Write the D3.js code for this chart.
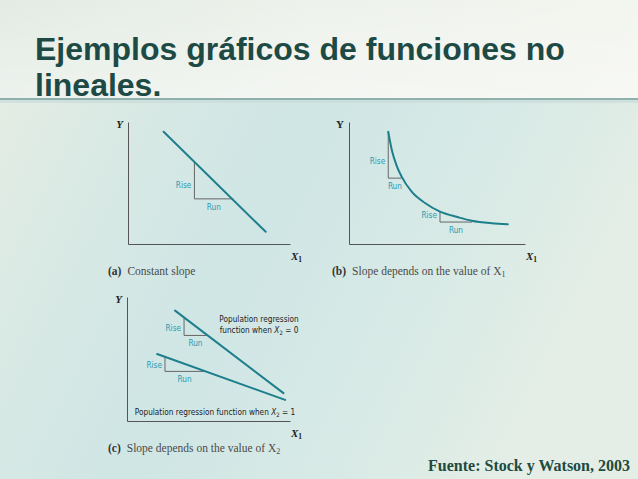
<!DOCTYPE html>
<html><head><meta charset="utf-8">
<script src="https://cdn.jsdelivr.net/npm/d3@7"></script>
<style>
html,body{margin:0;padding:0;background:#fff;}
svg{display:block;}
</style></head>
<body>
<script>
// ---- data (values in each panel's own 0..10 units) ----
const titleLines = ["Ejemplos gráficos de funciones no", "lineales."];
const sourceText = "Fuente: Stock y Watson, 2003";

const lineA = [[2.2, 9.2], [8.5, 1.0]];
const triA = [[4.1, 6.7], [4.1, 3.7], [6.5, 3.7]];

const curveB = [[2.23, 9.2], [2.45, 7.6], [2.7, 6.45], [2.99, 5.52], [3.56, 4.29], [4.32, 3.36],
                [5.17, 2.65], [6.21, 2.19], [6.97, 1.91], [8.11, 1.70], [9.02, 1.61]];
const triB1 = [[2.23, 9.2], [2.23, 5.4], [2.99, 5.4]];
const triB2 = [[5.17, 2.65], [5.17, 1.8], [6.99, 1.8]];

const lineC0 = [[2.95, 8.9], [9.6, 2.25]];
const lineC1 = [[1.85, 5.4], [9.7, 1.7]];
const triC0 = [[3.5, 8.3], [3.5, 6.9], [4.9, 6.9]];
const triC1 = [[2.33, 5.17], [2.33, 4.0], [4.74, 4.0]];

const captions = [
  {tag: "(a)", text: "Constant slope", sub: null},
  {tag: "(b)", text: "Slope depends on the value of X", sub: "1"},
  {tag: "(c)", text: "Slope depends on the value of X", sub: "2"}
];
const regLabel0 = ["Population regression", "function when X", "2", " = 0"];
const regLabel1 = ["Population regression function when X", "2", " = 1"];

// ---- drawing ----
const W = 638, H = 479;
const svg = d3.select("body").append("svg").attr("width", W).attr("height", H);
const defs = svg.append("defs");

const gTop = defs.append("linearGradient").attr("id", "gTop").attr("x1", 0).attr("x2", 1).attr("y1", 0).attr("y2", 0);
gTop.append("stop").attr("offset", 0).attr("stop-color", "#e3ebe4");
gTop.append("stop").attr("offset", 0.5).attr("stop-color", "#eef2ec");
gTop.append("stop").attr("offset", 1).attr("stop-color", "#f3f5ef");
const gTopV = defs.append("linearGradient").attr("id", "gTopV").attr("x1", 0).attr("x2", 0).attr("y1", 0).attr("y2", 1);
gTopV.append("stop").attr("offset", 0).attr("stop-color", "#ffffff").attr("stop-opacity", 0);
gTopV.append("stop").attr("offset", 1).attr("stop-color", "#ffffff").attr("stop-opacity", 0.35);

const gBot = defs.append("linearGradient").attr("id", "gBot").attr("x1", 0).attr("x2", 1).attr("y1", 0).attr("y2", 0.3);
gBot.append("stop").attr("offset", 0).attr("stop-color", "#e4ede4");
gBot.append("stop").attr("offset", 0.18).attr("stop-color", "#d9e9e4");
gBot.append("stop").attr("offset", 0.45).attr("stop-color", "#cfe6e5");
gBot.append("stop").attr("offset", 0.75).attr("stop-color", "#d8eae6");
gBot.append("stop").attr("offset", 1).attr("stop-color", "#e4eee6");

svg.append("rect").attr("width", W).attr("height", 99).attr("fill", "url(#gTop)");
svg.append("rect").attr("width", W).attr("height", 99).attr("fill", "url(#gTopV)");
svg.append("rect").attr("y", 99).attr("width", W).attr("height", H - 99).attr("fill", "url(#gBot)");
svg.append("rect").attr("y", 100).attr("width", W).attr("height", 3).attr("fill", "#c9dcd8").attr("opacity", 0.7);
svg.append("rect").attr("y", 98).attr("width", W).attr("height", 2).attr("fill", "#8fb1ad");

// title
svg.append("text").attr("x", 35).attr("y", 60)
  .attr("font-family", "Liberation Sans, Arial, sans-serif").attr("font-weight", "bold")
  .attr("font-size", 32).attr("fill", "#1e4a45")
  .selectAll("tspan").data(titleLines).join("tspan")
  .attr("x", 35).attr("dy", (d, i) => i ? 36 : 0).text(d => d);

// source
svg.append("text").attr("x", 630).attr("y", 471).attr("text-anchor", "end")
  .attr("font-family", "Liberation Serif, 'Times New Roman', serif").attr("font-weight", "bold")
  .attr("font-size", 16).attr("fill", "#1e4a40").text(sourceText);

const lineCol = "#1d7e8c", labCol = "#2a9ab0", triCol = "#666", axisCol = "#555";
const narrow = "'Liberation Sans Narrow', 'DejaVu Sans Condensed', Arial, sans-serif";
const serif = "'Liberation Serif', 'Times New Roman', serif";
const smallFs = 8.2;

function panel(o) {
  const x = d3.scaleLinear().domain([0, 10]).range([o.x0, o.x1]);
  const y = d3.scaleLinear().domain([0, 10]).range([o.y0, o.y1]);
  const g = svg.append("g");
  g.append("g").attr("transform", `translate(0,${o.y0})`)
    .call(d3.axisBottom(x).tickValues([]).tickSizeOuter(0))
    .call(s => s.select(".domain").attr("stroke", axisCol).attr("stroke-width", 1));
  g.append("g").attr("transform", `translate(${o.x0},0)`)
    .call(d3.axisLeft(y).tickValues([]).tickSizeOuter(0))
    .call(s => s.select(".domain").attr("stroke", axisCol).attr("stroke-width", 1));
  g.append("text").attr("x", o.x0 - 5).attr("y", o.y1 + 6).attr("text-anchor", "end")
    .attr("font-family", serif).attr("font-weight", "bold").attr("font-style", o.yItalic ? "italic" : "normal")
    .attr("font-size", 11).attr("fill", "#222").text("Y");
  const xl = g.append("text").attr("x", o.x1 + 1).attr("y", o.y0 + 16)
    .attr("font-family", serif).attr("font-weight", "bold").attr("font-size", 11).attr("fill", "#222");
  xl.append("tspan").attr("font-style", "italic").text("X");
  xl.append("tspan").attr("font-size", 7.5).attr("dy", 2).text("1");
  const c = o.caption;
  const ct = g.append("text").attr("x", o.capX).attr("y", o.y0 + 31)
    .attr("font-family", serif).attr("font-size", 11.5).attr("fill", "#4a4a4a");
  ct.append("tspan").attr("font-weight", "bold").attr("fill", "#333").text(c.tag);
  ct.append("tspan").attr("dx", 6).text(c.text);
  if (c.sub) ct.append("tspan").attr("font-size", 8).attr("dy", 2).text(c.sub);
  return {g, x, y};
}

const line = (sx, sy, curve) => d3.line().x(d => sx(d[0])).y(d => sy(d[1])).curve(curve || d3.curveLinear);

function tri(p, t, pad) {
  p.g.append("path").attr("d", line(p.x, p.y)(t)).attr("fill", "none")
    .attr("stroke", triCol).attr("stroke-width", 1);
  const vx = p.x(t[0][0]), vm = (p.y(t[0][1]) + p.y(t[1][1])) / 2;
  const hy = p.y(t[1][1]), hm = (p.x(t[1][0]) + p.x(t[2][0])) / 2;
  p.g.append("text").attr("x", vx - 3).attr("y", vm + (pad || 0) + 3).attr("text-anchor", "end")
    .attr("font-family", narrow).attr("font-size", smallFs).attr("fill", labCol).text("Rise");
  p.g.append("text").attr("x", hm).attr("y", hy + 11).attr("text-anchor", "middle")
    .attr("font-family", narrow).attr("font-size", smallFs).attr("fill", labCol).text("Run");
}

function drawLine(p, data, curve) {
  p.g.append("path").attr("d", line(p.x, p.y, curve)(data)).attr("fill", "none")
    .attr("stroke", lineCol).attr("stroke-width", 2).attr("stroke-linecap", "round");
}

// panel (a)
const pa = panel({x0: 128, x1: 290, y0: 244, y1: 122, yItalic: true, caption: captions[0], capX: 108});
tri(pa, triA, 4);
drawLine(pa, lineA);

// panel (b)
const pb = panel({x0: 349, x1: 525, y0: 244, y1: 122, yItalic: false, caption: captions[1], capX: 332});
tri(pb, triB1, 6);
tri(pb, triB2, -2);
drawLine(pb, curveB, d3.curveMonotoneX);

// panel (c)
const pc = panel({x0: 127, x1: 290, y0: 421, y1: 297, yItalic: true, caption: captions[2], capX: 108});
tri(pc, triC0, 1);
tri(pc, triC1, 1);
drawLine(pc, lineC0);
drawLine(pc, lineC1);

// regression labels
const r0 = pc.g.append("text").attr("font-family", narrow).attr("font-size", smallFs).attr("fill", "#222")
  .attr("text-anchor", "middle");
r0.append("tspan").attr("x", pc.x(8.1)).attr("y", pc.y(8.0)).text(regLabel0[0]);
const r0b = r0.append("tspan").attr("x", pc.x(8.1)).attr("dy", 11);
r0b.append("tspan").text(regLabel0[1].slice(0, -1));
r0b.append("tspan").attr("font-style", "italic").text("X");
r0b.append("tspan").attr("font-size", 6).attr("dy", 2).text(regLabel0[2]);
r0b.append("tspan").attr("dy", -2).text(regLabel0[3]);

const r1 = pc.g.append("text").attr("font-family", narrow).attr("font-size", smallFs).attr("fill", "#222")
  .attr("text-anchor", "middle").attr("x", pc.x(5.4)).attr("y", pc.y(0.5));
r1.append("tspan").text(regLabel1[0].slice(0, -1));
r1.append("tspan").attr("font-style", "italic").text("X");
r1.append("tspan").attr("font-size", 6).attr("dy", 2).text(regLabel1[1]);
r1.append("tspan").attr("dy", -2).text(regLabel1[2]);
</script>
</body></html>
